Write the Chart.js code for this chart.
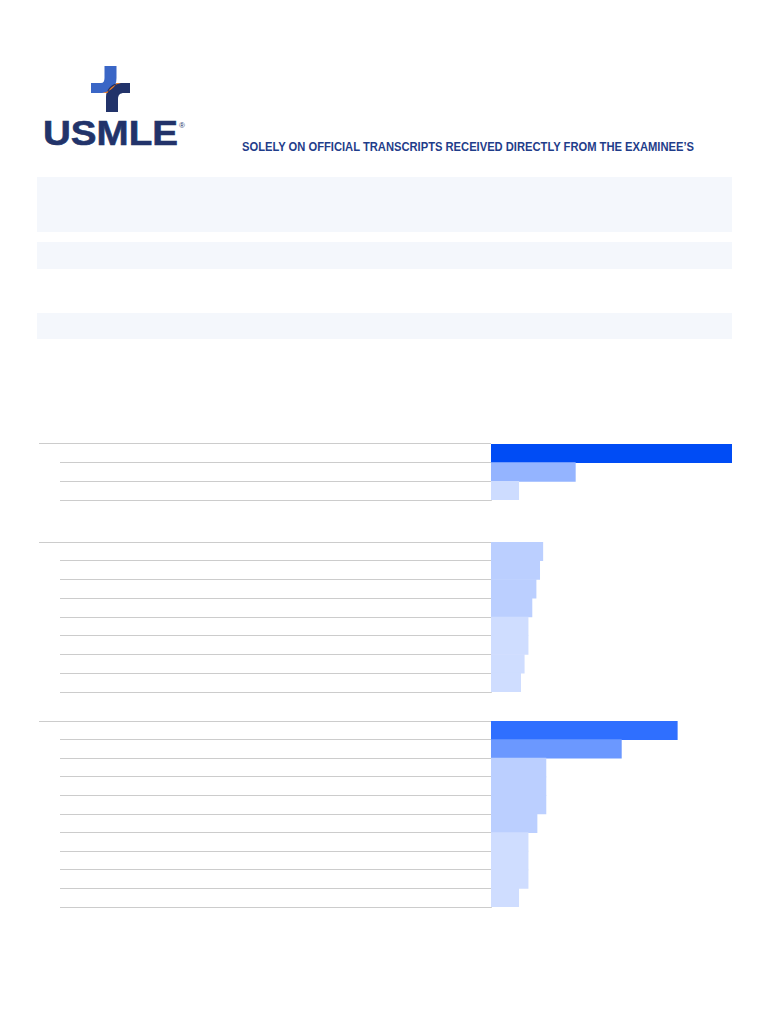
<!DOCTYPE html>
<html>
<head>
<meta charset="utf-8">
<script src="https://cdn.jsdelivr.net/npm/chart.js@4.4.0/dist/chart.umd.min.js"></script>
<style>
  html, body { margin: 0; padding: 0; background: #ffffff; }
  body { width: 768px; height: 1024px; position: relative; overflow: hidden; }
  .box { position: absolute; left: 37px; width: 695px; background: #f4f7fc; }
  canvas { position: absolute; left: 39px; }
</style>
</head>
<body>
<svg style="position:absolute;left:0;top:0" width="768" height="170">
  <path d="M104.5 66 H116.5 V78 C116.5 88 110 93 102 93 H91 V83 H101 C103.5 83 104.5 81 104.5 78 Z" fill="#3a66c6"/>
  <path d="M130 83 V93 H124 C120 93 118 95 118 99 V112 H106 V97 C106 89 112 83 120 83 Z" fill="#22336a"/>
  <path d="M116.5 83 H121 C114 84.5 109.5 88 107.5 93 H102 C108.5 92 114 88.5 116.5 83 Z" fill="#f07d22"/>
  <text x="43" y="145" font-family="Liberation Sans, Arial, sans-serif" font-weight="bold" font-size="35" fill="#22336a" stroke="#22336a" stroke-width="0.6" textLength="135" lengthAdjust="spacingAndGlyphs">USMLE</text>
  <text x="179" y="128" font-family="Liberation Sans, Arial, sans-serif" font-size="8" fill="#22336a">®</text>
  <text x="242" y="150.5" font-family="Liberation Sans, Arial, sans-serif" font-weight="bold" font-size="12.5" fill="#1f3d8a" textLength="452" lengthAdjust="spacingAndGlyphs">SOLELY ON OFFICIAL TRANSCRIPTS RECEIVED DIRECTLY FROM THE EXAMINEE’S</text>
</svg>
<div class="box" style="top:177px;height:55px"></div>
<div class="box" style="top:242px;height:27px"></div>
<div class="box" style="top:313px;height:26px"></div>

<canvas id="chartA"></canvas>
<canvas id="chartB"></canvas>
<canvas id="chartC"></canvas>

<script>
// ---- Data ----
const groupALabels = ["A1", "A2", "A3"];
const groupAValues = [100, 35, 11.5];

const groupBLabels = ["B1", "B2", "B3", "B4", "B5", "B6", "B7", "B8"];
const groupBValues = [21.5, 20.2, 18.7, 17.0, 15.4, 15.4, 13.8, 12.3];

const groupCLabels = ["C1", "C2", "C3", "C4", "C5", "C6", "C7", "C8", "C9", "C10"];
const groupCValues = [77.3, 54.1, 22.8, 22.8, 22.8, 19.1, 15.4, 15.4, 15.4, 11.5];

const axisMin = 0;
const axisMax = 100;

// ---- Styles ----
const groupAColors = ["#004cf5", "#94b4ff", "#cddcff"];
const groupBColors = ["#bbcfff", "#bbcfff", "#bbcfff", "#bbcfff", "#cfddff", "#cfddff", "#cfddff", "#cfddff"];
const groupCColors = ["#2f6fff", "#6b98ff", "#bbcfff", "#bbcfff", "#bbcfff", "#bbcfff", "#cfddff", "#cfddff", "#cfddff", "#cfddff"];

const topLinePlugin = {
  id: 'topLine',
  afterDraw(chart) {
    const ys = chart.scales.y;
    const ctx = chart.ctx;
    let y = Math.round(chart.chartArea.top) + 0.5;
    if (ys._gridLineItems && ys._gridLineItems.length) {
      y = ys._gridLineItems[0].ty1;
    }
    ctx.save();
    ctx.strokeStyle = '#cccccc';
    ctx.lineWidth = 1;
    ctx.beginPath();
    ctx.moveTo(ys.left, y);
    ctx.lineTo(ys.right - 431, y);
    ctx.stroke();
    ctx.restore();
  }
};

function makeChart(id, labels, values, colors, top, areaHeight) {
  const canvas = document.getElementById(id);
  canvas.width = 695;
  canvas.height = areaHeight + 2;
  canvas.style.top = (top - 1) + 'px';
  new Chart(canvas, {
    type: 'bar',
    data: {
      labels: labels,
      datasets: [{
        data: values,
        backgroundColor: colors,
        borderWidth: 0,
        categoryPercentage: 1,
        barPercentage: 1
      }]
    },
    options: {
      indexAxis: 'y',
      responsive: false,
      animation: false,
      devicePixelRatio: 1,
      layout: { padding: { top: 1, bottom: 1, right: 2, left: 0 } },
      plugins: { legend: { display: false }, tooltip: { enabled: false }, title: { display: false } },
      scales: {
        x: { display: false, min: axisMin, max: axisMax },
        y: {
          ticks: { display: false },
          grid: { offset: true, drawOnChartArea: false, drawTicks: true, tickLength: 431, color: '#cccccc', lineWidth: 1 },
          border: { display: true, color: '#d6d6d6', width: 1 },
          afterFit(scale) { scale.width = 452; }
        }
      }
    },
    plugins: [topLinePlugin]
  });
}

makeChart('chartA', groupALabels, groupAValues, groupAColors, 444, 56);
makeChart('chartB', groupBLabels, groupBValues, groupBColors, 542, 150);
makeChart('chartC', groupCLabels, groupCValues, groupCColors, 721, 186);
</script>
</body>
</html>
